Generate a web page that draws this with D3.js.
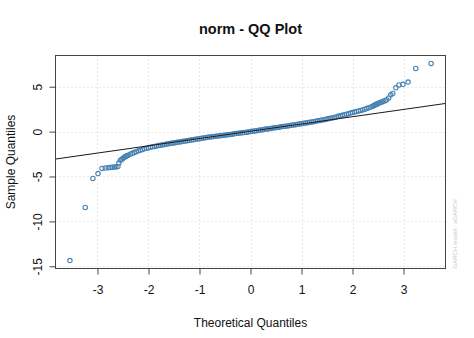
<!DOCTYPE html>
<html>
<head>
<meta charset="utf-8">
<script src="https://cdn.jsdelivr.net/npm/d3@7"></script>
<style>
  html, body { margin: 0; padding: 0; background: #fff; }
  svg { display: block; font-family: "Liberation Sans", Arial, Helvetica, sans-serif; }
</style>
</head>
<body>
<svg id="chart" width="474" height="338"></svg>
<script>
// Standardized residuals of the sGARCH fit against normal quantiles.
// Lower tail (most extreme first up to the band).
const lowerTheo = [-3.54, -3.24, -3.09, -2.99, -2.91, -2.85, -2.79, -2.75, -2.71, -2.67,
                   -2.64, -2.60, -2.58, -2.55, -2.52, -2.50, -2.48, -2.46, -2.44, -2.42];
const lowerSample = [-14.37, -8.44, -5.22, -4.67, -4.10, -4.06, -4.03, -4.00, -3.97, -3.95,
                     -3.93, -3.88, -3.50, -3.20, -3.08, -2.98, -2.88, -2.80, -2.74, -2.68];

// Central body of the distribution.
const bodyTheo = [
  -2.40, -2.36, -2.32, -2.28, -2.24, -2.20, -2.16, -2.12, -2.08, -2.04,
  -2.00, -1.96, -1.92, -1.88, -1.84, -1.80, -1.76, -1.72, -1.68, -1.64,
  -1.60, -1.56, -1.52, -1.48, -1.44, -1.40, -1.36, -1.32, -1.28, -1.24,
  -1.20, -1.16, -1.12, -1.08, -1.04, -1.00, -0.96, -0.92, -0.88, -0.84,
  -0.80, -0.76, -0.72, -0.68, -0.64, -0.60, -0.56, -0.52, -0.48, -0.44,
  -0.40, -0.36, -0.32, -0.28, -0.24, -0.20, -0.16, -0.12, -0.08, -0.04,
   0.00,  0.04,  0.08,  0.12,  0.16,  0.20,  0.24,  0.28,  0.32,  0.36,
   0.40,  0.44,  0.48,  0.52,  0.56,  0.60,  0.64,  0.68,  0.72,  0.76,
   0.80,  0.84,  0.88,  0.92,  0.96,  1.00,  1.04,  1.08,  1.12,  1.16,
   1.20,  1.24,  1.28,  1.32,  1.36,  1.40,  1.44,  1.48,  1.52,  1.56,
   1.60,  1.64,  1.68,  1.72,  1.76,  1.80,  1.84,  1.88,  1.92,  1.96,
   2.00,  2.04,  2.08,  2.12,  2.16,  2.20,  2.24,  2.28,  2.32,  2.36,
   2.40];
const bodySample = [
  -2.62, -2.52, -2.42, -2.33, -2.23, -2.14, -2.07, -1.99, -1.92, -1.86,
  -1.80, -1.75, -1.70, -1.66, -1.61, -1.56, -1.52, -1.47, -1.43, -1.39,
  -1.35, -1.31, -1.27, -1.23, -1.19, -1.15, -1.12, -1.08, -1.05, -1.01,
  -0.97, -0.94, -0.90, -0.86, -0.83, -0.79, -0.75, -0.72, -0.68, -0.64,
  -0.61, -0.58, -0.55, -0.52, -0.49, -0.46, -0.43, -0.40, -0.37, -0.34,
  -0.31, -0.28, -0.25, -0.22, -0.19, -0.16, -0.13, -0.10, -0.07, -0.03,
   0.00,  0.03,  0.07,  0.10,  0.14,  0.17,  0.21,  0.25,  0.28,  0.32,
   0.35,  0.39,  0.42,  0.46,  0.49,  0.53,  0.56,  0.60,  0.63,  0.66,
   0.70,  0.73,  0.77,  0.81,  0.84,  0.88,  0.92,  0.96,  1.00,  1.03,
   1.07,  1.11,  1.16,  1.20,  1.24,  1.28,  1.33,  1.38,  1.43,  1.48,
   1.53,  1.58,  1.64,  1.70,  1.76,  1.82,  1.88,  1.94,  2.00,  2.06,
   2.12,  2.18,  2.24,  2.30,  2.36,  2.42,  2.49,  2.57,  2.65,  2.74,
   2.83];

// Upper tail.
const upperTheo = [2.42, 2.44, 2.46, 2.48, 2.50, 2.52, 2.55, 2.58, 2.60, 2.64,
                   2.67, 2.71, 2.75, 2.79, 2.85, 2.91, 2.99, 3.09, 3.24, 3.54];
const upperSample = [2.92, 2.97, 3.02, 3.08, 3.13, 3.18, 3.24, 3.31, 3.38, 3.45,
                     3.55, 3.75, 4.10, 4.25, 4.88, 5.20, 5.27, 5.52, 7.04, 7.60];

// Reference line through the quartiles: intercept and slope.
const qqIntercept = 0.04;
const qqSlope = 0.81;

const xTicks = [-3, -2, -1, 0, 1, 2, 3];
const yTicks = [-15, -10, -5, 0, 5];

const titleText = "norm - QQ Plot";
const xLabel = "Theoretical Quantiles";
const yLabel = "Sample Quantiles";
const sideNote = "GARCH model : sGARCH";

const theo = lowerTheo.concat(bodyTheo, upperTheo);
const samp = lowerSample.concat(bodySample, upperSample);
const points = theo.map((t, i) => ({ t, s: samp[i] }));

const plot = { left: 55.5, right: 445.5, top: 55.5, bottom: 268.5 };

// Axis limits padded by 4% of the data range on each side.
function padded(ext) {
  const d = (ext[1] - ext[0]) * 0.04;
  return [ext[0] - d, ext[1] + d];
}
const x = d3.scaleLinear().domain(padded(d3.extent(theo))).range([plot.left, plot.right]);
const y = d3.scaleLinear().domain(padded(d3.extent(samp))).range([plot.bottom, plot.top]);

// Plain hyphen-minus for negative tick labels
const fmt = d => String(d);

const svg = d3.select("#chart");

// Clip region for in-panel marks
svg.append("defs").append("clipPath").attr("id", "panel")
  .append("rect")
  .attr("x", plot.left).attr("y", plot.top)
  .attr("width", plot.right - plot.left).attr("height", plot.bottom - plot.top);

// Dotted grid at tick positions
const grid = svg.append("g").attr("clip-path", "url(#panel)")
  .attr("stroke", "#d3d3d3").attr("stroke-width", 1).attr("stroke-dasharray", "1,3");
grid.selectAll("line.vx").data(xTicks).join("line")
  .attr("x1", d => Math.round(x(d)) + 0.5).attr("x2", d => Math.round(x(d)) + 0.5)
  .attr("y1", plot.top).attr("y2", plot.bottom);
grid.selectAll("line.hy").data(yTicks).join("line")
  .attr("y1", d => Math.round(y(d)) + 0.5).attr("y2", d => Math.round(y(d)) + 0.5)
  .attr("x1", plot.left).attr("x2", plot.right);

// Sample points
svg.append("g").attr("clip-path", "url(#panel)")
  .selectAll("circle").data(points).join("circle")
  .attr("cx", d => x(d.t)).attr("cy", d => y(d.s))
  .attr("r", 2.2)
  .attr("fill", "none")
  .attr("stroke", "#4682b4")
  .attr("stroke-width", 1.1);

// Quartile reference line across the panel
const [x0, x1] = x.domain();
svg.append("line").attr("clip-path", "url(#panel)")
  .attr("x1", x(x0)).attr("y1", y(qqIntercept + qqSlope * x0))
  .attr("x2", x(x1)).attr("y2", y(qqIntercept + qqSlope * x1))
  .attr("stroke", "#1a1a1a").attr("stroke-width", 1);

// Panel frame
svg.append("rect")
  .attr("x", plot.left).attr("y", plot.top)
  .attr("width", plot.right - plot.left).attr("height", plot.bottom - plot.top)
  .attr("fill", "none").attr("stroke", "#444").attr("stroke-width", 1);

// Bottom axis
const xAxis = svg.append("g")
  .attr("transform", `translate(0,${plot.bottom})`)
  .call(d3.axisBottom(x).tickValues(xTicks).tickSize(6).tickPadding(11).tickFormat(fmt));
xAxis.select(".domain").remove();
xAxis.selectAll(".tick line").attr("stroke", "#444");
xAxis.selectAll(".tick text")
  .attr("font-size", 12).attr("fill", "#111")
  .attr("font-family", "Liberation Sans, Arial, sans-serif");

// Left axis with labels parallel to the axis
const yAxis = svg.append("g")
  .attr("transform", `translate(${plot.left},0)`)
  .call(d3.axisLeft(y).tickValues(yTicks).tickSize(6).tickFormat(fmt));
yAxis.select(".domain").remove();
yAxis.selectAll(".tick line").attr("stroke", "#444");
yAxis.selectAll(".tick text")
  .attr("x", null).attr("dy", null)
  .attr("transform", "translate(-13.5,0) rotate(-90)")
  .attr("text-anchor", "middle")
  .attr("font-size", 12).attr("fill", "#111")
  .attr("font-family", "Liberation Sans, Arial, sans-serif");

// Title
svg.append("text")
  .attr("x", (plot.left + plot.right) / 2).attr("y", 33.5)
  .attr("text-anchor", "middle")
  .attr("font-size", 14.5).attr("font-weight", "bold").attr("fill", "#111")
  .text(titleText);

// Axis titles
svg.append("text")
  .attr("x", (plot.left + plot.right) / 2).attr("y", 327)
  .attr("text-anchor", "middle")
  .attr("font-size", 12).attr("fill", "#111")
  .text(xLabel);

svg.append("text")
  .attr("transform", `translate(15,${(plot.top + plot.bottom) / 2}) rotate(-90)`)
  .attr("text-anchor", "middle")
  .attr("font-size", 12).attr("fill", "#111")
  .text(yLabel);

// Model note along the right margin
svg.append("text")
  .attr("transform", `translate(457,${plot.bottom}) rotate(-90)`)
  .attr("text-anchor", "start")
  .attr("font-size", 6).attr("fill", "#c8c8c8")
  .text(sideNote);
</script>
</body>
</html>
